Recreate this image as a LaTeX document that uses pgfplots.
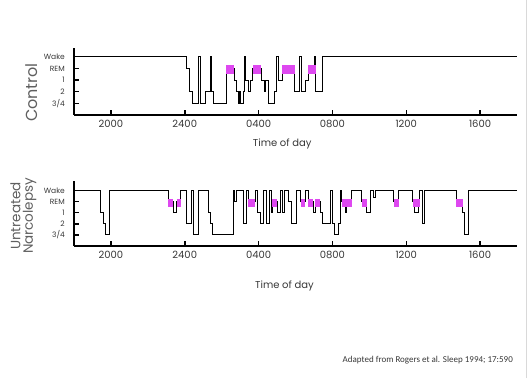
\documentclass[border=0pt]{standalone}
\usepackage{pgfplots}
\pgfplotsset{compat=1.18}
\usepackage{fontspec}
\setmainfont{Poppins}
\newfontfamily\citefont{Carlito}
\definecolor{remcol}{RGB}{222,72,240}
\definecolor{lab}{RGB}{95,95,95}
\definecolor{tk}{RGB}{55,55,55}
\newcommand{\rem}[2]{\addplot[fill=remcol, draw=none] coordinates {(#1,2.5) (#1,3.25) (#2,3.25) (#2,2.5)};}
\pgfplotsset{hypno/.style={
  scale only axis, width=443pt, xmin=18, xmax=42, ymin=-1,
  axis x line*=bottom, axis y line*=left,
  axis line style={-, line width=1.5pt, black},
  major tick style={line width=1.5pt, black}, major tick length=5pt, tick align=inside,
  xtick={20,24,28,32,36,40}, xticklabels={2000,2400,0400,0800,1200,1600},
  ytick={0,1,2,3,4}, yticklabels={3/4,2,1,REM,Wake},
  yticklabel style={font=\fontsize{7.5}{9}\selectfont, text=tk, anchor=east, inner sep=0pt, xshift=-9pt},
  xticklabel style={font=\fontsize{10}{12}\selectfont, text=tk, anchor=north, inner sep=0pt, yshift=-5pt},
  xlabel={Time of day},
  /pgf/number format/assume math mode=true,
}}
\begin{document}
\begin{tikzpicture}
\path[use as bounding box] (0,0) rectangle (529pt,378pt);
\draw[gray!30, line width=1.2pt] (526.5pt,0) -- (526.5pt,378pt);
% Control
\begin{axis}[hypno, at={(74pt,263pt)}, anchor=south west, height=67pt, ymax=4.75,
  xlabel style={font=\fontsize{10}{12}\selectfont, text=tk, at={(axis description cs:0.47,0)}, anchor=base, inner sep=0pt, yshift=-31pt}]
\addplot[const plot, black, line width=0.9pt] coordinates {
(18,4) (24.11,3) (24.23,1) (24.43,0) (24.74,4) (24.83,0) (25.10,1) (25.40,4) (25.45,1)
(25.55,0) (26.24,3) (26.67,2) (26.82,1) (26.89,0) (26.97,1) (27.01,0) (27.16,1) (27.24,4)
(27.30,2) (27.43,1) (27.58,2) (27.69,3) (28.15,2) (28.30,1) (28.39,2)
(28.52,0) (28.84,1) (28.99,4) (29.07,2) (29.29,3) (29.96,1) (30.23,4) (30.34,1) (30.56,2)
(30.68,3) (31.04,4) (31.07,3) (31.10,1) (31.46,4) (42,4)};
\rem{26.24}{26.67}
\rem{27.69}{28.15}
\rem{29.29}{29.96}
\rem{30.68}{31.10}
\end{axis}
% Narcolepsy
\begin{axis}[hypno, at={(74pt,132pt)}, anchor=south west, height=65pt, ymax=4.86,
  xlabel style={font=\fontsize{10}{12}\selectfont, text=tk, at={(axis description cs:0.475,0)}, anchor=base, inner sep=0pt, yshift=-42pt}]
\addplot[const plot, black, line width=0.9pt] coordinates {
(18,4) (19.45,2) (19.59,1) (19.73,0) (19.91,4) (23.11,3) (23.38,2) (23.57,3) (23.78,4)
(24.11,1) (24.38,4) (24.48,0) (24.75,4) (25.28,2) (25.37,1) (25.52,0) (26.63,4) (26.70,3)
(26.78,4) (27.18,1) (27.36,4) (27.45,3) (27.81,4) (27.96,2) (28.08,1) (28.26,4) (28.44,1)
(28.57,4) (28.70,2) (28.75,3) (29.02,2) (29.17,4) (29.27,2) (29.38,4) (29.60,3) (29.80,1)
(30.07,4) (30.29,3) (30.52,4) (30.70,3) (30.97,2) (31.06,3) (31.33,2) (31.48,1) (31.90,4)
(32.01,1) (32.12,0) (32.34,1) (32.44,4) (32.51,3) (32.72,2) (32.77,3) (33.05,4) (33.59,3)
(33.86,2) (34.04,4) (34.22,3.4) (34.31,4) (35.31,3) (35.58,4) (36.34,3) (36.43,2) (36.64,3)
(36.72,4) (36.88,1) (36.96,4) (38.70,3) (39.05,2) (39.15,0) (39.37,4) (42,4)};
\rem{23.11}{23.38}
\rem{23.57}{23.78}
\rem{27.45}{27.81}
\rem{28.75}{29.02}
\rem{30.29}{30.52}
\rem{30.70}{30.97}
\rem{31.06}{31.33}
\rem{32.51}{33.05}
\rem{33.59}{33.86}
\rem{35.31}{35.58}
\rem{36.34}{36.72}
\rem{38.70}{39.05}
\end{axis}
\node[rotate=90, text=lab, font=\fontsize{16}{18}\selectfont, inner sep=0pt] at (32pt,285.5pt) {Control};
\node[rotate=90, text=lab, font=\fontsize{13.5}{12.5}\selectfont, inner sep=0pt, align=center] at (23.5pt,162pt) {Untreated\\Narcolepsy};
\node[anchor=base east, text=tk, font=\citefont\fontsize{9}{11}\selectfont, inner sep=0pt] at (513pt,16pt) {Adapted from Rogers et al. Sleep 1994; 17:590};
\end{tikzpicture}
\end{document}
